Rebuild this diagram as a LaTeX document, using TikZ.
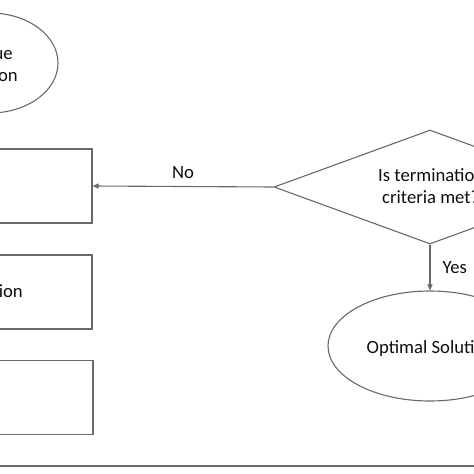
\documentclass[tikz,border=0pt]{standalone}
\usepackage{fontspec}
\setmainfont{Carlito}
\usetikzlibrary{shapes.geometric,arrows.meta}
\definecolor{L}{RGB}{105,105,105}
\definecolor{T}{RGB}{15,15,15}

\begin{document}
\begin{tikzpicture}[x=1pt,y=-1pt,
  every node/.style={font=\fontsize{18.7}{22}\selectfont, text=T},
  flow/.style={draw=L, line width=1.1pt},
  blk/.style={flow, rectangle, inner sep=0pt, minimum width=154, minimum height=74},
  oval/.style={flow, ellipse, inner sep=0pt},
  txt/.style={inner sep=0pt},
  conn/.style={flow, -{Triangle[length=6pt,width=5pt]}}]
  \useasboundingbox (0,0) rectangle (474,474);
  \clip (0,0) rectangle (474,474);

  %# START OVAL (cut off at the left)
  \node[oval, minimum width=136, minimum height=100] (start) at (-10,63) {};
  \node[txt, anchor=base east] (startA) at (13,59.5) {ue};
  \node[txt, anchor=base east] (startB) at (18,81.5) {on};

  %# LEFT COLUMN OF BOXES
  \node[blk] (boxA) at (15,186) {};
  \node[blk] (boxB) at (15,292) {};
  \node[txt, anchor=base east] (boxBt) at (23,297) {ion};
  \node[blk] (boxC) at (16,397.5) {};

  %# DECISION
  \node[flow, diamond, inner sep=0pt, minimum width=312, minimum height=114] (crit) at (430,187) {};
  \node[txt, anchor=base west] (critA) at (378,181) {Is terminatio};
  \node[txt, anchor=base west] (critB) at (382,203) {criteria met?};

  %# END OVAL
  \node[oval, minimum width=204, minimum height=110] (opt) at (430,346) {};
  \node[txt, anchor=base west] (optt) at (366.5,353) {Optimal Soluti};

  %# CONNECTORS
  \draw[conn] (crit.west) -- node[txt, above=7pt] {No} (boxA.east);
  \draw[conn] (crit.south) -- node[txt, right=12pt] {Yes} (opt.north);

  %# BOTTOM RULE
  \draw[draw=L, line width=1.5pt] (0,466) -- (474,466);
\end{tikzpicture}
\end{document}
